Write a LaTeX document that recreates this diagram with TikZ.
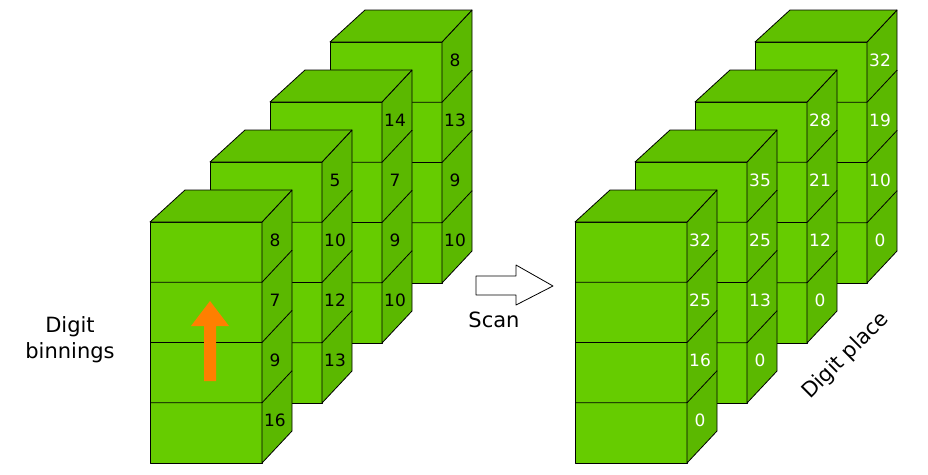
\documentclass[tikz,border=0pt]{standalone}
\usepackage{fontspec}
\setmainfont{DejaVu Sans}
\definecolor{gfront}{HTML}{66CC00}
\definecolor{gside}{HTML}{5BB800}
\definecolor{gtop}{HTML}{60C000}
\definecolor{org}{HTML}{FF7F00}
\begin{document}
\begin{tikzpicture}[x=1pt,y=-1pt,line join=round,
  face/.style={draw=black,line width=0.8pt},
  lbl/.style={font=\fontsize{17}{17}\selectfont},
  txt/.style={font=\fontsize{21}{26}\selectfont,align=center}]
\useasboundingbox (0,0) rectangle (928,474);
\newcommand\mycol[7]{%
  \fill[gfront] (#1,#2) rectangle ++(112,241);
  \draw[face] (#1,#2) rectangle ++(112,241);
  \foreach \k in {1,2,3}{\draw[face] (#1,#2+60.25*\k) -- ++(112,0) -- ++(30,-32);}
  \filldraw[face,fill=gside] (#1+112,#2) -- ++(30,-32) -- ++(0,241) -- ++(-30,32) -- cycle;
  \foreach \k in {1,2,3}{\draw[face] (#1+112,#2+60.25*\k) -- ++(30,-32);}
  \filldraw[face,fill=gtop] (#1,#2) -- ++(35,-32) -- ++(107,0) -- ++(-30,32) -- cycle;
  \node[lbl,text=#7] at (#1+125,#2+18) {#3};
  \node[lbl,text=#7] at (#1+125,#2+78) {#4};
  \node[lbl,text=#7] at (#1+125,#2+138) {#5};
  \node[lbl,text=#7] at (#1+125,#2+198) {#6};
}
\mycol{330}{42}{8}{13}{9}{10}{black}
\mycol{270}{102}{14}{7}{9}{10}{black}
\mycol{210}{162}{5}{10}{12}{13}{black}
\mycol{150}{222}{8}{7}{9}{16}{black}
\mycol{755}{42}{32}{19}{10}{0}{white}
\mycol{695}{102}{28}{21}{12}{0}{white}
\mycol{635}{162}{35}{25}{13}{0}{white}
\mycol{575}{222}{32}{25}{16}{0}{white}
\fill[org] (204,381) -- (216,381) -- (216,326) -- (229,326) -- (210,301) -- (191,326) -- (204,326) -- cycle;
\draw[line width=0.8pt,fill=white] (476,276) -- (516,276) -- (516,265) -- (553,286) -- (516,305) -- (516,295) -- (476,295) -- cycle;
\node[txt] (scan) at (494,320) {Scan};
\node[txt] (db) at (70,340) {Digit\\binnings};
\node[txt,rotate=45,inner sep=0pt] (dp) at (846,356) {Digit place};
\end{tikzpicture}
\end{document}
